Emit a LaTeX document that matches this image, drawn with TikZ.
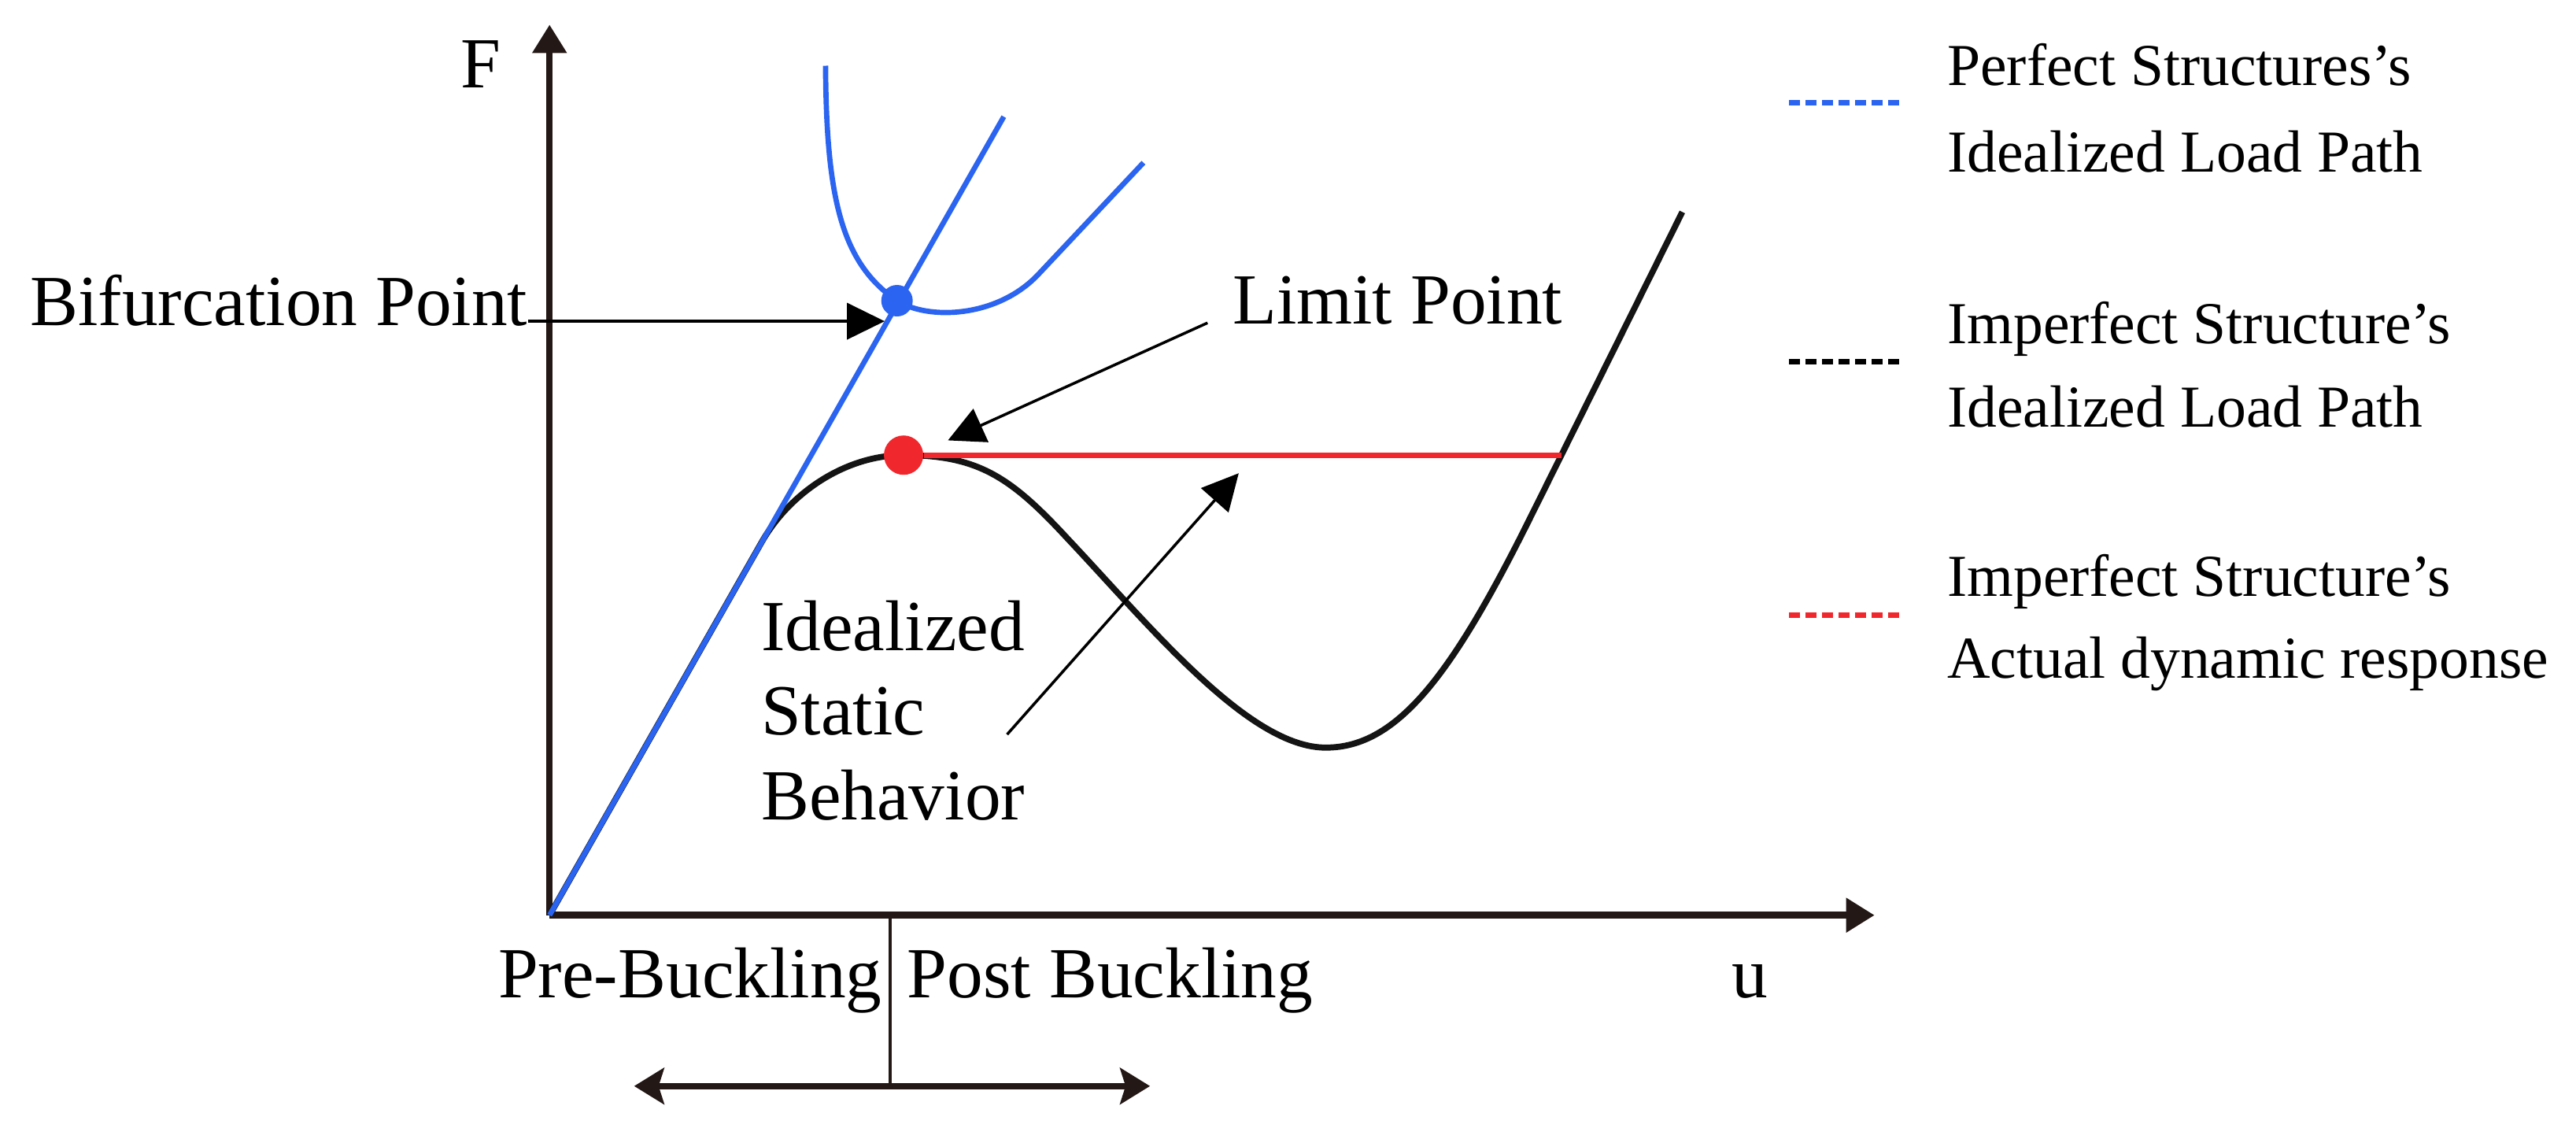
\documentclass[tikz,border=0pt]{standalone}
\usepackage{fontspec}
\setmainfont{Liberation Serif}
\usetikzlibrary{arrows.meta}
\definecolor{axiscol}{RGB}{35,24,21}
\definecolor{pblue}{RGB}{43,100,240}
\definecolor{pred}{RGB}{240,40,45}
\definecolor{curveblk}{RGB}{20,20,20}
\tikzset{
  axisline/.style={line width=2.4pt, draw=axiscol, -{Triangle[length=0.36cm,width=0.42cm]}},
  lbl/.style={inner sep=0pt, font=\fontsize{26}{31}\selectfont, anchor=base west},
  leg/.style={inner sep=0pt, font=\fontsize{21.5}{26}\selectfont, anchor=base west},
  pointer/.style={line width=1pt, draw=black, -{Triangle[length=0.46cm,width=0.46cm]}},
  legdash/.style={line width=2pt, dash pattern=on 0.14cm off 0.07cm},
  dotnode/.style={circle, inner sep=0pt, minimum size=#1},
}
\begin{document}
\begin{tikzpicture}[x=0.020874cm, y=-0.020874cm]
\useasboundingbox (0,0) rectangle (1568,693);
% axes
\coordinate (O) at (334.5,557);
\coordinate (ytip) at (334.5,15);
\coordinate (xtip) at (1141,557);
\draw[axisline] (O) -- (ytip);
\draw[axisline] (O) -- (xtip);
\node[lbl] (F) at (280,53.6) {F};
\node[lbl] (u) at (1054,607) {u};
% black imperfect curve
\draw[curveblk, line width=2.2pt, line join=round]
  (O) -- (463.6,330) .. controls (480.9,299.6) and (515,277) .. (550,277)
  .. controls (595,277) and (615,290) .. (650,328)
  .. controls (700,381) and (760,455) .. (807,455)
  .. controls (850,455) and (883,412) .. (930,318) -- (1024,129);
% blue perfect paths
\draw[pblue, line width=1.9pt] (O) -- (611,71);
\draw[pblue, line width=1.9pt, line join=round] (502.5,40) .. controls (503,120) and (512,160) .. (546,183)
  .. controls (565,195) and (607,193.5) .. (632,167) -- (696,99);
% red dynamic response
\node[dotnode=0.5cm, fill=pred] (lp) at (550,277) {};
\coordinate (redend) at (950.5,277);
\draw[pred, line width=1.9pt] (lp.east) -- (redend);
\node[dotnode=0.4cm, fill=pblue] (bp) at (546,183) {};
% bifurcation label and arrow
\node[lbl] (bif) at (18,198) {Bifurcation Point};
\coordinate (biftip) at (538.5,195.5);
\draw[line width=1.2pt, -{Triangle[length=0.48cm,width=0.46cm]}] (bif.east |- biftip) -- (biftip);
% limit point label and arrow
\node[lbl] (lim) at (750,197) {Limit Point};
\coordinate (limstart) at (735,196.5);
\coordinate (limtip) at (577,268);
\draw[pointer] (limstart) -- (limtip);
% idealized static behaviour
\node[lbl] (id1) at (463,396) {Idealized};
\node[lbl] (id2) at (463,447) {Static};
\node[lbl] (id3) at (463,499) {Behavior};
\coordinate (idstart) at (613,447);
\coordinate (idtip) at (754,288);
\draw[pointer] (idstart) -- (idtip);
% buckling regions
\node[lbl] (pre) at (303,607) {Pre-Buckling};
\node[lbl] (post) at (552,607) {Post Buckling};
\coordinate (divtop) at (542,557);
\coordinate (divbot) at (542,661);
\coordinate (dleft) at (386,661);
\coordinate (dright) at (700,661);
\draw[axiscol, line width=1.1pt] (divtop) -- (divbot);
\draw[axiscol, line width=2.4pt, {Stealth[length=0.38cm,width=0.46cm,inset=0.07cm]}-{Stealth[length=0.38cm,width=0.46cm,inset=0.07cm]}] (dleft) -- (dright);
% legend
\coordinate (l1a) at (1089,62.7); \coordinate (l1b) at (1156.5,62.7);
\coordinate (l2a) at (1089,220); \coordinate (l2b) at (1156.5,220);
\coordinate (l3a) at (1089,374.6); \coordinate (l3b) at (1156.5,374.6);
\draw[legdash, pblue] (l1a) -- (l1b);
\draw[legdash, black] (l2a) -- (l2b);
\draw[legdash, pred] (l3a) -- (l3b);
\node[leg] (t1a) at (1185,52) {Perfect Structures’s};
\node[leg] (t1b) at (1185,104.5) {Idealized Load Path};
\node[leg] (t2a) at (1185,209) {Imperfect Structure’s};
\node[leg] (t2b) at (1185,260) {Idealized Load Path};
\node[leg] (t3a) at (1185,363) {Imperfect Structure’s};
\node[leg] (t3b) at (1185,412.5) {Actual dynamic response};
\end{tikzpicture}
\end{document}
